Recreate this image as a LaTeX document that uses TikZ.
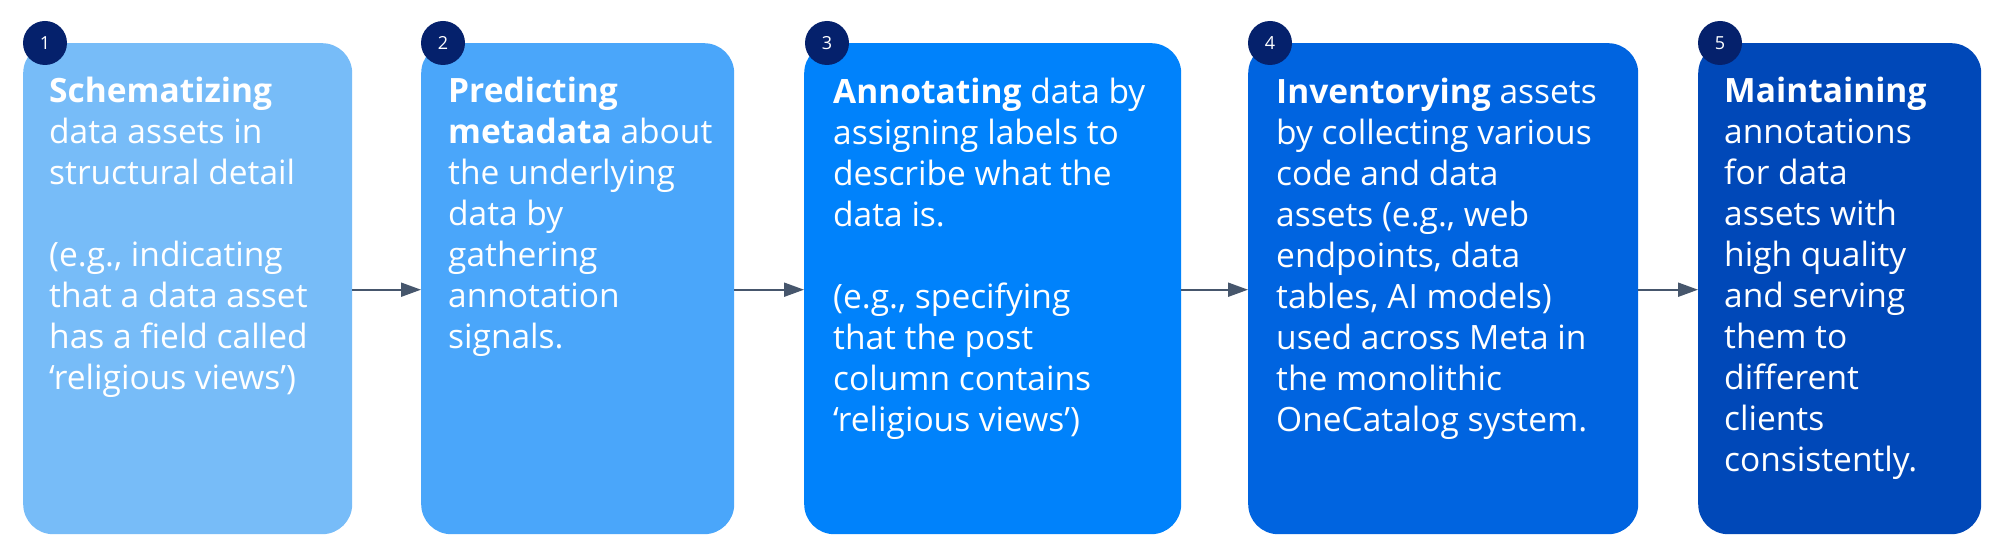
\documentclass[tikz,border=0pt]{standalone}
\usepackage{fontspec}
\setmainfont{Open Sans}
\usetikzlibrary{arrows.meta}
\definecolor{cone}{HTML}{77BCF8}
\definecolor{ctwo}{HTML}{4AA6FA}
\definecolor{cthree}{HTML}{0082FB}
\definecolor{cfour}{HTML}{0064E0}
\definecolor{cfive}{HTML}{0048B8}
\definecolor{navy}{HTML}{05216C}
\definecolor{arrowc}{HTML}{46566C}
\newcommand{\firstline}{\rule{0pt}{30pt}}
\begin{document}
\begin{tikzpicture}[x=1pt,y=-1pt,
  stepbox/.style={rectangle, rounded corners=30pt, draw=none, anchor=north west, minimum height=491pt, inner sep=0pt},
  badge/.style={circle, fill=navy, minimum size=44pt, inner sep=0pt, text=white, font=\fontsize{18}{18}\selectfont},
  txt/.style={anchor=north west, align=left, text=white, inner sep=0pt, font=\fontsize{33.5}{41}\selectfont},
  conn/.style={draw=arrowc, line width=2pt, -{Triangle[length=20pt,width=14pt]}}]
\useasboundingbox (0,0) rectangle (1999,548);
\fill[white] (0,0) rectangle (1999,548);
\node[stepbox, fill=cone,   minimum width=329pt] (b1) at (23,43) {};
\node[stepbox, fill=ctwo,   minimum width=313pt] (b2) at (421,43) {};
\node[stepbox, fill=cthree, minimum width=377pt] (b3) at (804,43) {};
\node[stepbox, fill=cfour,  minimum width=390pt] (b4) at (1248,43) {};
\node[stepbox, fill=cfive,  minimum width=283pt] (b5) at (1698,43) {};
\node[badge] (n1) at (45,43) {1};
\node[badge] (n2) at (443,43) {2};
\node[badge] (n3) at (827,43) {3};
\node[badge] (n4) at (1270,43) {4};
\node[badge] (n5) at (1720,43) {5};
\node[txt] (t1) at (49,72) {\firstline\textbf{Schematizing}\\ data assets in\\ structural detail\\[41pt] (e.g., indicating\\ that a data asset\\ has a field called\\ ‘religious views’)};
\node[txt] (t2) at (448,72) {\firstline\textbf{Predicting}\\ \textbf{metadata} about\\ the underlying\\ data by\\ gathering\\ annotation\\ signals.};
\node[txt] (t3) at (833,73) {\firstline\textbf{Annotating} data by\\ assigning labels to\\ describe what the\\ data is.\\[41pt] (e.g., specifying\\ that the post\\ column contains\\ ‘religious views’)};
\node[txt] (t4) at (1276,73) {\firstline\textbf{Inventorying} assets\\ by collecting various\\ code and data\\ assets (e.g., web\\ endpoints, data\\ tables, AI models)\\ used across Meta in\\ the monolithic\\ OneCatalog system.};
\node[txt] (t5) at (1724,72) {\firstline\textbf{Maintaining}\\ annotations\\ for data\\ assets with\\ high quality\\ and serving\\ them to\\ different\\ clients\\ consistently.};
\draw[conn] ([yshift=-1pt]b1.east) -- ([yshift=-1pt]b2.west);
\draw[conn] ([yshift=-1pt]b2.east) -- ([yshift=-1pt]b3.west);
\draw[conn] ([yshift=-1pt]b3.east) -- ([yshift=-1pt]b4.west);
\draw[conn] ([yshift=-1pt]b4.east) -- ([yshift=-1pt]b5.west);
\end{tikzpicture}
\end{document}
